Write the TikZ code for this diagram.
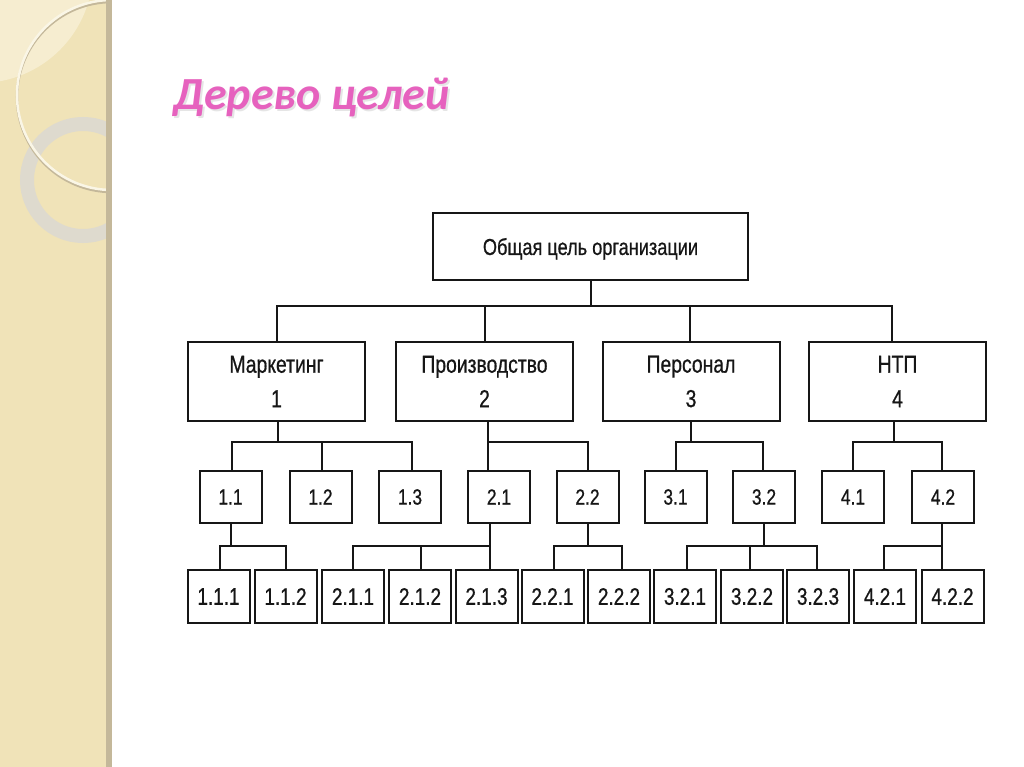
\documentclass[tikz,border=0pt]{standalone}
\usepackage{fontspec}
\newfontfamily\Cond[FakeStretch=0.79,FakeBold=0.7]{Liberation Sans}
\newfontfamily\TitleFont{Carlito}
\definecolor{beige}{RGB}{240,227,184}
\definecolor{beigelight}{RGB}{246,237,208}
\definecolor{beigeshadow}{RGB}{196,184,154}
\definecolor{ringgray}{RGB}{222,218,206}
\definecolor{ringline}{RGB}{250,246,230}
\definecolor{titlepink}{RGB}{230,98,190}
\definecolor{ink}{RGB}{22,22,22}
\tikzset{
  box/.style={draw=ink, line width=2pt, fill=white, inner sep=0pt, align=center, text=ink},
  topbox/.style={box, minimum width=315pt, minimum height=67pt, text depth=0pt, font=\Cond\fontsize{23}{30}\selectfont},
  lonebox/.style={box, minimum width=177pt, minimum height=79pt, font=\Cond\fontsize{24.5}{34.5}\selectfont},
  twobox/.style={box, minimum width=62pt, minimum height=52pt, font=\Cond\fontsize{22}{25}\selectfont},
  threebox/.style={box, minimum width=62pt, minimum height=53pt, font=\Cond\fontsize{24}{28}\selectfont},
  link/.style={draw=ink, line width=2pt}
}
\begin{document}
\begin{tikzpicture}[x=1pt,y=-1pt]
\useasboundingbox (0,0) rectangle (1024,767);
\fill[white] (0,0) rectangle (1024,767);
% sidebar
\begin{scope}
  \clip (0,0) rectangle (108,767);
  \fill[beige] (0,0) rectangle (108,767);
  \fill[beigelight] (-20,-30) circle[radius=113];
  \draw[ringgray, line width=14pt] (83,180) circle[radius=56];
  \draw[beigeshadow, line width=2.5pt] (112,97) circle[radius=95];
  \draw[ringline, line width=2.5pt] (112,95) circle[radius=95];
\end{scope}
\fill[beigeshadow] (106,0) rectangle (112,767);
% title
\node[anchor=base west, text=gray, opacity=0.2, font=\TitleFont\bfseries\itshape\fontsize{46}{50}\selectfont] (tshadow) at (172,112) {Дерево целей};
\node[anchor=base west, text=titlepink, font=\TitleFont\bfseries\itshape\fontsize{46}{50}\selectfont] (title) at (170,110) {Дерево целей};
% level 0
\node[topbox] (g) at (590.5,246.5) {Общая цель организации};
% level 1
\node[lonebox] (m1) at (276.5,381.5) {Маркетинг\\1};
\node[lonebox] (m2) at (484.5,381.5) {Производство\\2};
\node[lonebox] (m3) at (691,381.5) {Персонал\\3};
\node[lonebox] (m4) at (897.5,381.5) {НТП\\4};
% level 2
\node[twobox] (n11) at (230.5,497) {1.1};
\node[twobox] (n12) at (320.5,497) {1.2};
\node[twobox] (n13) at (410,497) {1.3};
\node[twobox] (n21) at (499,497) {2.1};
\node[twobox] (n22) at (587.5,497) {2.2};
\node[twobox] (n31) at (675.5,497) {3.1};
\node[twobox] (n32) at (764,497) {3.2};
\node[twobox] (n41) at (853,497) {4.1};
\node[twobox] (n42) at (943,497) {4.2};
% level 3
\node[threebox] (k111) at (218.5,596.5) {1.1.1};
\node[threebox] (k112) at (285.5,596.5) {1.1.2};
\node[threebox] (k211) at (353,596.5) {2.1.1};
\node[threebox] (k212) at (420,596.5) {2.1.2};
\node[threebox] (k213) at (486.5,596.5) {2.1.3};
\node[threebox] (k221) at (552.5,596.5) {2.2.1};
\node[threebox] (k222) at (619,596.5) {2.2.2};
\node[threebox] (k321) at (685,596.5) {3.2.1};
\node[threebox] (k322) at (752,596.5) {3.2.2};
\node[threebox] (k323) at (818,596.5) {3.2.3};
\node[threebox] (k421) at (885,596.5) {4.2.1};
\node[threebox] (k422) at (952.5,596.5) {4.2.2};
% connectors level 0 -> 1
\foreach \c/\s in {m1/0, m2/0, m3/-1, m4/-5.5}
  \draw[link] (g.south) -- ++(0,25) -| ([xshift=\s pt]\c.north);
% level 1 -> 2
\foreach \c in {n11,n12,n13}
  \draw[link] ([xshift=1.5pt]m1.south) -- ++(0,20) -| ([xshift=1.5pt]\c.north);
\foreach \c/\s in {n21/-11, n22/0}
  \draw[link] ([xshift=3.5pt]m2.south) -- ++(0,20) -| ([xshift=\s pt]\c.north);
\foreach \c/\s in {n31/0, n32/-1}
  \draw[link] (m3.south) -- ++(0,20) -| ([xshift=\s pt]\c.north);
\foreach \c/\s in {n41/0, n42/-1}
  \draw[link] ([xshift=-3.5pt]m4.south) -- ++(0,20) -| ([xshift=\s pt]\c.north);
% level 2 -> 3
\foreach \c/\s in {k111/1.5, k112/0.5}
  \draw[link] (n11.south) -- ++(0,22) -| ([xshift=\s pt]\c.north);
\foreach \c/\s in {k211/0, k212/1, k213/3.5}
  \draw[link] ([xshift=-9pt]n21.south) -- ++(0,22) -| ([xshift=\s pt]\c.north);
\foreach \c/\s in {k221/1.5, k222/3}
  \draw[link] (n22.south) -- ++(0,22) -| ([xshift=\s pt]\c.north);
\foreach \c/\s in {k321/2, k322/-2, k323/-1}
  \draw[link] (n32.south) -- ++(0,22) -| ([xshift=\s pt]\c.north);
\foreach \c/\s in {k421/-1, k422/-10.5}
  \draw[link] ([xshift=-1pt]n42.south) -- ++(0,22) -| ([xshift=\s pt]\c.north);
\end{tikzpicture}
\end{document}
